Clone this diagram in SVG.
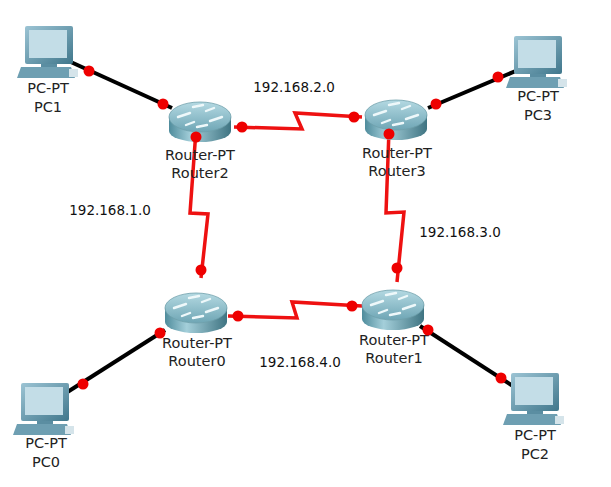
<svg xmlns="http://www.w3.org/2000/svg" width="611" height="487" viewBox="0 0 611 487">
<defs>
<linearGradient id="rs" x1="0" y1="0" x2="1" y2="0"><stop offset="0" stop-color="#4f8c9c"/><stop offset="0.35" stop-color="#a4cfda"/><stop offset="1" stop-color="#3f7482"/></linearGradient>
<linearGradient id="rt" x1="0" y1="0" x2="0" y2="1"><stop offset="0" stop-color="#b4d9e2"/><stop offset="1" stop-color="#6fa6b5"/></linearGradient>
<linearGradient id="pm" x1="0" y1="0" x2="1" y2="1"><stop offset="0" stop-color="#9cc4d4"/><stop offset="1" stop-color="#40778c"/></linearGradient>
<g id="router">
<path d="M-31,-4 L-31,10 A31,11 0 0 0 31,10 L31,-4 Z" fill="url(#rs)"/>
<ellipse cx="0" cy="-4" rx="31" ry="15" fill="url(#rt)" stroke="#6f9fab" stroke-width="0.8"/>
<g fill="none" stroke="#eef8fa" stroke-width="2.4" stroke-linecap="round">
<path d="M-22,-4 L-10,-8 M10,0 L22,-4 M-7,-14 L3,-16 M-3,6 L7,4 M-14,4 L-6,1 M6,-10 L14,-13"/>
</g>
</g>
<g id="pc">
<rect x="8" y="0" width="48" height="38" rx="2" fill="url(#pm)"/>
<rect x="12" y="4" width="38" height="28" fill="#c3dde7"/>
<rect x="24" y="38" width="16" height="4" fill="#5b8ea2"/>
<path d="M4,41 L54,41 L58,52 L0,52 Z" fill="#6e9fb2"/>
<rect x="52" y="43" width="9" height="8" fill="#d5e4ea"/>
</g>
<style>
.t{font-family:"DejaVu Sans",sans-serif;font-size:14.5px;fill:#222;text-anchor:middle}
.ip{font-family:"DejaVu Sans",sans-serif;font-size:13.5px;fill:#111;text-anchor:middle}
.eth{stroke:#000;stroke-width:4;fill:none}
.ser{stroke:#ee1111;stroke-width:3.5;fill:none;stroke-linejoin:miter}
.d{fill:#ee0000}
</style>
</defs>
<rect width="611" height="487" fill="#fff"/>
<g id="connectors">
<path class="eth" d="M62,58 L172,108"/>
<path class="eth" d="M518,70 L428,108"/>
<path class="eth" d="M58,398 L165,330"/>
<path class="eth" d="M522,392 L420,326"/>
<path class="ser" d="M234,127 L302,129 L295,113 L362,117"/>
<path class="ser" d="M196,130 L190,213 L208,214 L201,278"/>
<path class="ser" d="M389,130 L386,213 L404,212 L397,282"/>
<path class="ser" d="M228,316 L297,318 L292,302 L362,306"/>
</g>
<g id="Router2"><use href="#router" x="200" y="121"/><text class="t" x="200" y="160">Router-PT</text><text class="t" x="200" y="178">Router2</text></g>
<g id="Router3"><use href="#router" x="396" y="119"/><text class="t" x="397" y="158">Router-PT</text><text class="t" x="397" y="176">Router3</text></g>
<g id="Router0"><use href="#router" x="196" y="312"/><text class="t" x="197" y="348">Router-PT</text><text class="t" x="197" y="366">Router0</text></g>
<g id="Router1"><use href="#router" x="393" y="309"/><text class="t" x="394" y="345">Router-PT</text><text class="t" x="394" y="363">Router1</text></g>
<g id="PC1"><use href="#pc" x="17" y="26"/><text class="t" x="48" y="93">PC-PT</text><text class="t" x="48" y="112">PC1</text></g>
<g id="PC3"><use href="#pc" x="506" y="36"/><text class="t" x="538" y="101">PC-PT</text><text class="t" x="538" y="120">PC3</text></g>
<g id="PC0"><use href="#pc" x="13" y="383"/><text class="t" x="46" y="448">PC-PT</text><text class="t" x="46" y="467">PC0</text></g>
<g id="PC2"><use href="#pc" x="503" y="373"/><text class="t" x="535" y="440">PC-PT</text><text class="t" x="535" y="459">PC2</text></g>
<g id="dots">
<circle class="d" cx="89" cy="71" r="5.5"/><circle class="d" cx="163" cy="104" r="5.5"/>
<circle class="d" cx="436" cy="104" r="5.5"/><circle class="d" cx="498" cy="77" r="5.5"/>
<circle class="d" cx="160" cy="333" r="5.5"/><circle class="d" cx="83" cy="384" r="5.5"/>
<circle class="d" cx="428" cy="330" r="5.5"/><circle class="d" cx="501" cy="378" r="5.5"/>
<circle class="d" cx="242" cy="127" r="5.5"/><circle class="d" cx="354" cy="117" r="5.5"/>
<circle class="d" cx="196" cy="137" r="5.5"/><circle class="d" cx="201" cy="270" r="5.5"/>
<circle class="d" cx="389" cy="134" r="5.5"/><circle class="d" cx="397" cy="268" r="5.5"/>
<circle class="d" cx="238" cy="316" r="5.5"/><circle class="d" cx="352" cy="306" r="5.5"/>
</g>
<g id="labels">
<text class="ip" x="294" y="92">192.168.2.0</text>
<text class="ip" x="110" y="215">192.168.1.0</text>
<text class="ip" x="460" y="237">192.168.3.0</text>
<text class="ip" x="300" y="367">192.168.4.0</text>
</g>
</svg>
